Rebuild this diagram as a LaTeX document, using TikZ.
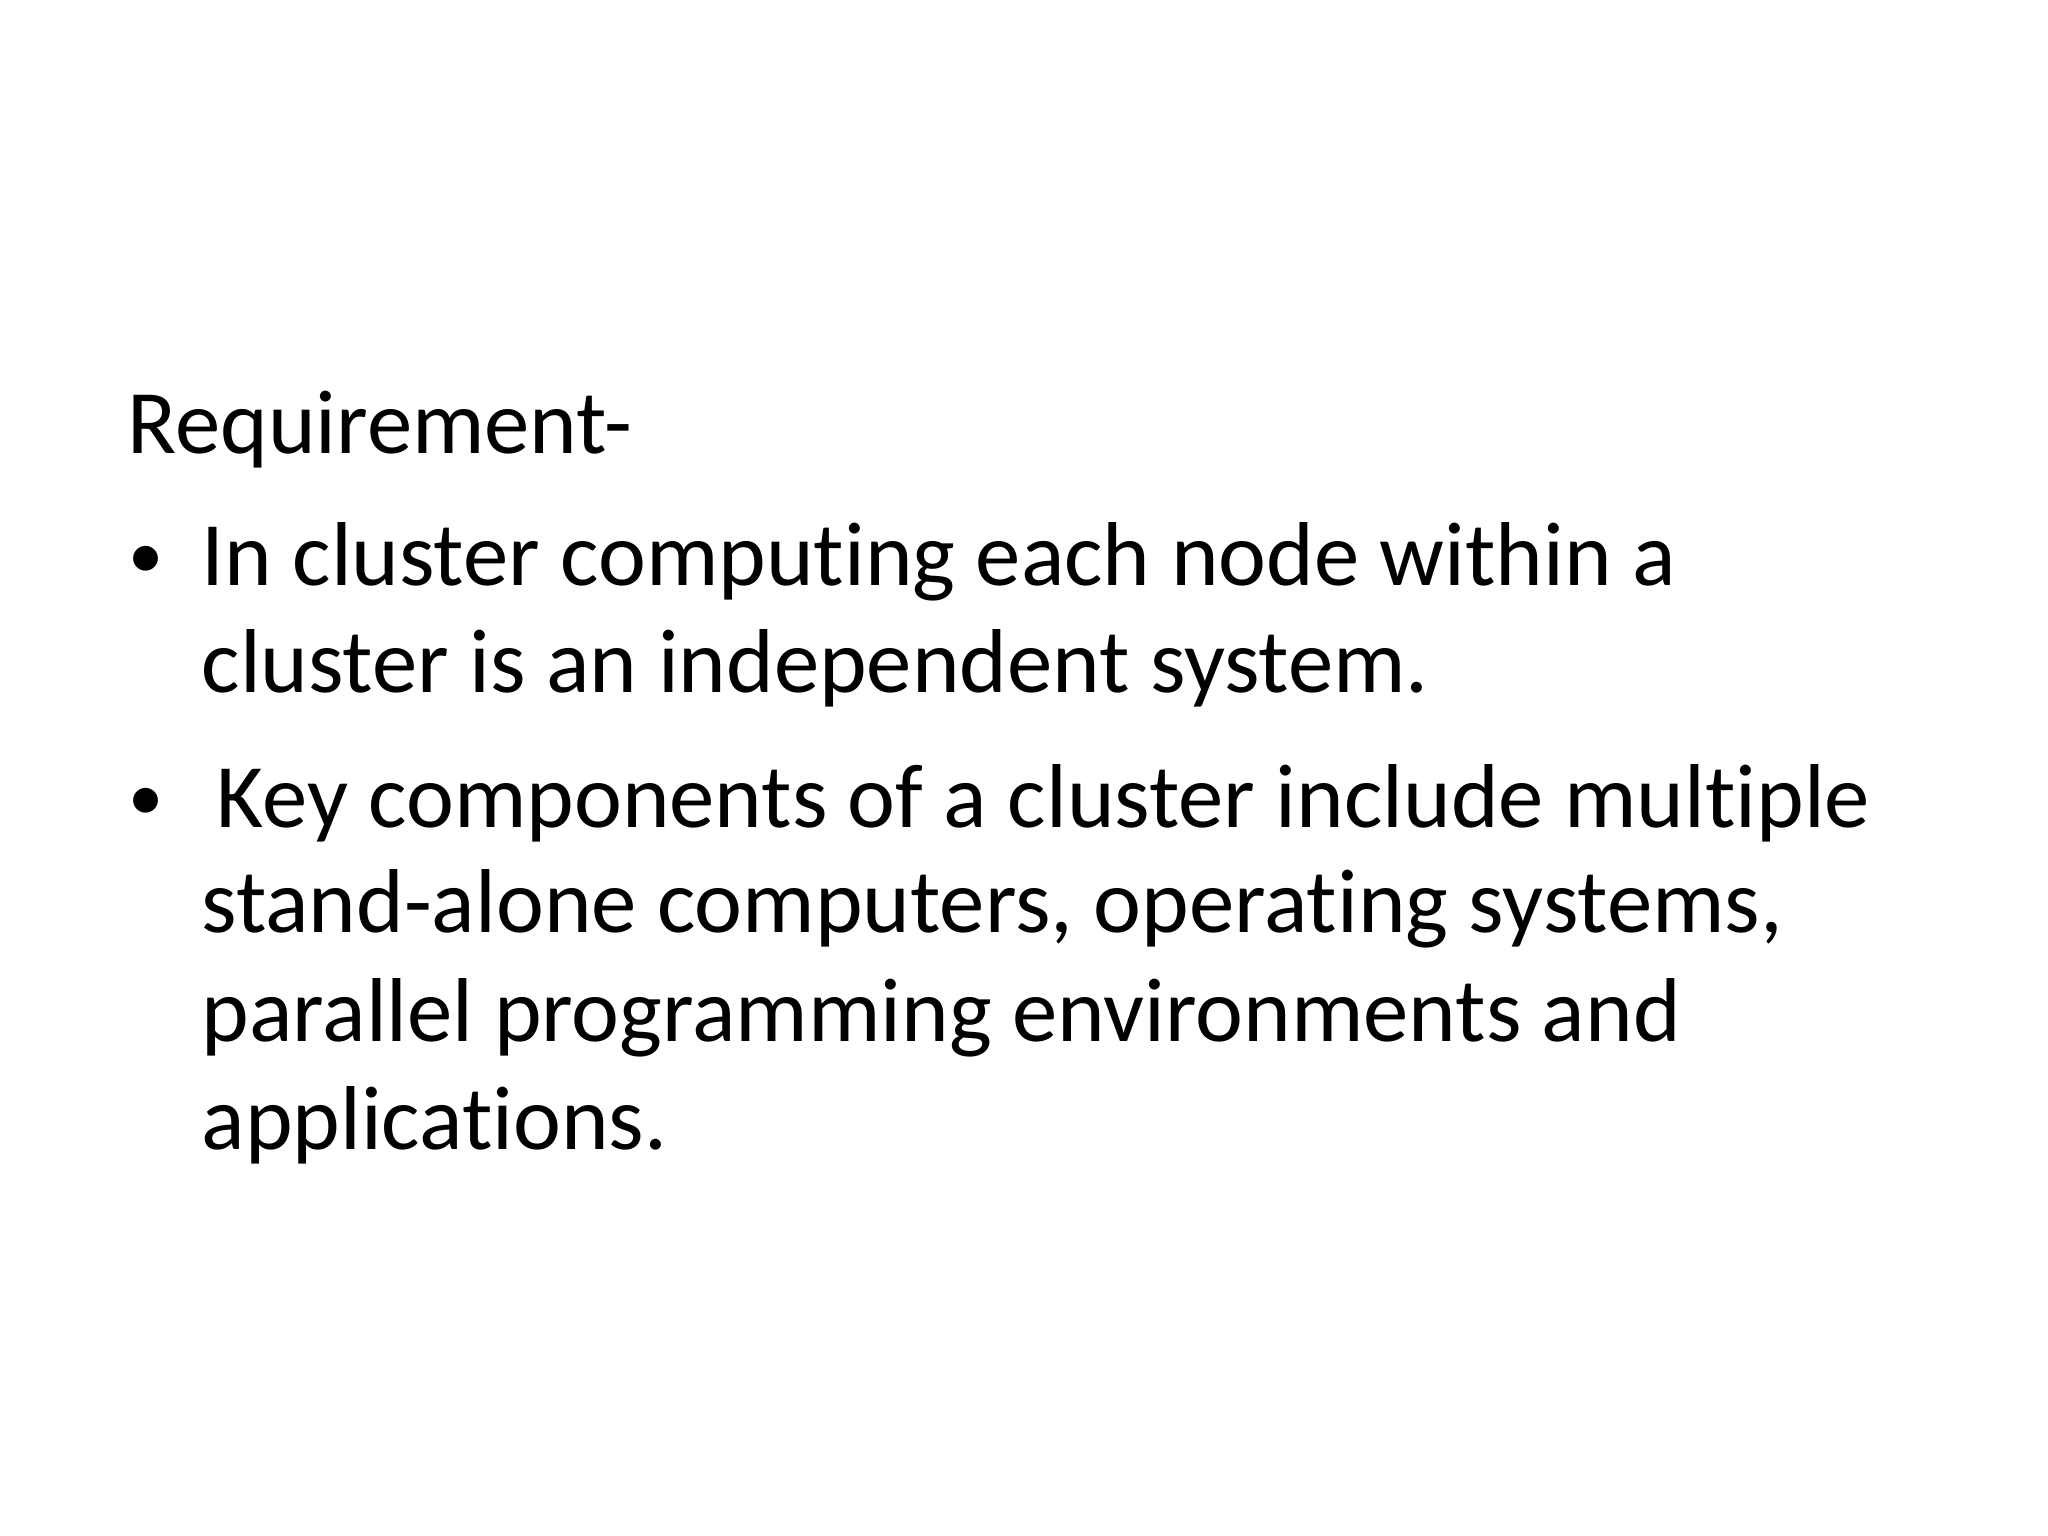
\documentclass[tikz,border=0pt]{standalone}
\usepackage{fontspec}
\setmainfont{Carlito}[RawFeature=-liga]
\begin{document}
\begin{tikzpicture}[x=0.01cm,y=-0.01cm,
  txt/.style={anchor=base west,inner sep=0pt,font=\fontsize{25.8pt}{31pt}\selectfont},
  bul/.style={anchor=base west,inner sep=0pt,font=\fontsize{20pt}{24pt}\selectfont}]
\useasboundingbox (0,0) rectangle (2048,1536);
\node[txt] (h) at (127,453) {Requirement-};
\node[bul] (b1) at (128,578) {\textbullet};
\node[txt] (l1) at (201,585) {In cluster computing each node within a};
\node[txt] (l2) at (201,692) {cluster is an independent system.};
\node[bul] (b2) at (128,820) {\textbullet};
\node[txt] (l3) at (201,827) {\,Key components of a cluster include multiple};
\node[txt] (l4) at (201,932) {stand-alone computers, operating systems,};
\node[txt] (l5) at (201,1041) {parallel programming environments and};
\node[txt] (l6) at (201,1149) {applications.};
\end{tikzpicture}
\end{document}
